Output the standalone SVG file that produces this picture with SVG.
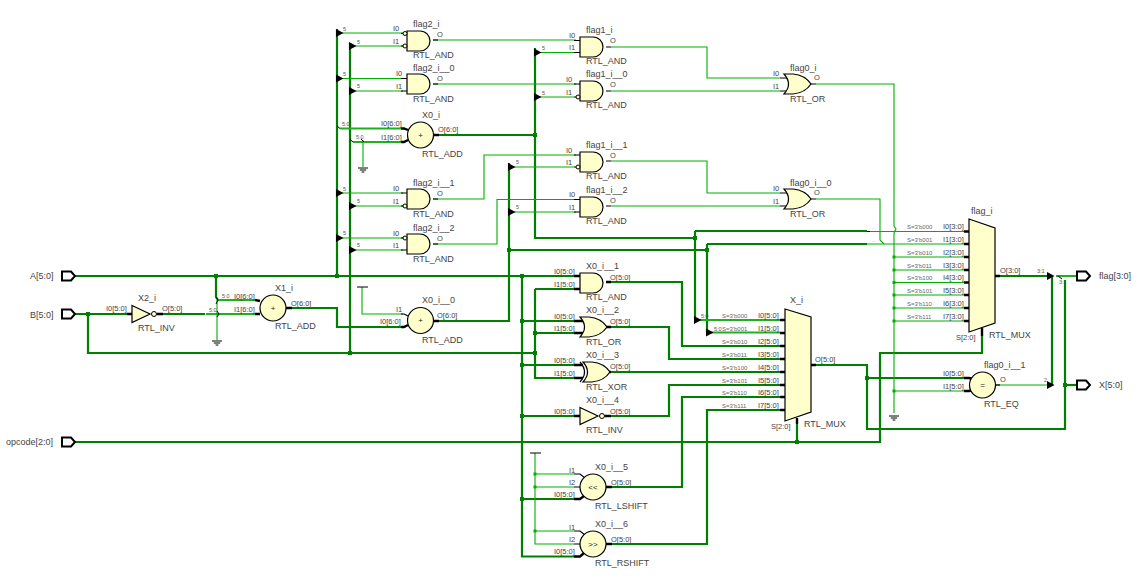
<svg xmlns="http://www.w3.org/2000/svg" width="1139" height="588" viewBox="0 0 1139 588">
<style>
text{font-family:"Liberation Sans",Arial,sans-serif;font-size:9px;fill:#444}
.p{font-size:7.5px}
.s{font-size:6px;fill:#666}
.k{font-size:5.5px;fill:#555}
.d{font-size:5.5px;fill:#aaa}
.c{font-size:8px;fill:#222}
.g{fill:#ffffcc;stroke:#000;stroke-width:1.2}
.st{stroke:#000;stroke-width:1.2;fill:none}
.sb{stroke:#000;stroke-width:2.4;fill:none}
.bub{fill:#ffffcc;stroke:#000;stroke-width:1}
.port{fill:#fff;stroke:#000;stroke-width:2}
.bus{stroke:#008000;stroke-width:2.2;fill:none}
.net{stroke:#00b000;stroke-width:1.1;fill:none}
.lb{stroke:#1eb01e;stroke-width:2;fill:none}
.j{fill:#008000}
.jl{fill:#00b000}
.tri{fill:#000}
.rip{stroke:#000;stroke-width:1;fill:none}
.pow{stroke:#000;stroke-width:1;fill:none}
</style>
<defs>
<path id="and" class="g" d="M0 0H13A10 10 0 0 1 13 20H0Z"/>
<path id="or" class="g" d="M-1 0H8Q20 1 26 10Q20 19 8 20H-1Q8 10 -1 0Z"/>
<path id="inv" class="g" d="M0 0L18 8.5L0 17Z"/>
<path id="port" class="port" d="M0 -4.5H9L13 0L9 4.5H0Z"/>
<path id="r" class="tri" d="M0 -4L7.500 0L0 4Z"/>
<rect id="jb" class="j" x="-2" y="-2" width="4" height="4"/>
<rect id="jn" class="jl" x="-1.500" y="-1.500" width="3" height="3"/>
<path id="gnd" class="pow" d="M-5 0H5M-3.200 2H3.200M-1.400 4H1.400"/>
</defs>

<g id="connectors">
<path class="bus" d="M75 276H576"/>
<path class="bus" d="M216 276V297L218 300"/>
<path class="bus" d="M75 314H127M162 314H205"/>
<path class="bus" d="M88 314V353H535"/>
<path class="bus" d="M75 442H880V353H982V336"/>
<path class="bus" d="M797 442V424"/>
<path class="bus" d="M337 29V276"/>
<path class="bus" d="M350 43V353"/>
<path class="bus" d="M535 48V238H695"/>
<path class="bus" d="M433 135H535"/>
<path class="bus" d="M509 163V321H433"/>
<path class="bus" d="M509 250H707"/>
<path class="bus" d="M695 231V320"/>
<path class="bus" d="M707 244V332"/>
<path class="bus" d="M695 231H867M707 244H867"/>
<path class="bus" d="M286 308H337V327H403"/>
<path class="bus" d="M522 276V556.500H574M522 321H574M522 365H574M522 416H574M522 499H574"/>
<path class="bus" d="M535 289H574M535 289V378H574M535 333H574"/>
<path class="bus" d="M611 282H682V346H780"/>
<path class="bus" d="M611 327H669V359H780"/>
<path class="bus" d="M611 372H780"/>
<path class="bus" d="M611 416H669V385H780"/>
<path class="bus" d="M611 487H682V397H780"/>
<path class="bus" d="M611 544H707V410H780"/>
<path class="bus" d="M815 365H867V429H1065V280"/>
<path class="bus" d="M867 378H964"/>
<path class="bus" d="M1065 385H1077"/>
<path class="bus" d="M1000 276H1047"/>
<path class="bus" d="M1052 276V385"/>
<path class="lb" d="M206 314H255M218 300H255M340 128.500H401M353 142H401"/>
<path class="lb" d="M698 320H780M710 332.500H780"/>
<path class="lb" d="M1056 276H1077"/>
<path class="net" d="M337 33H403M350 46H403M337 78.500H403M350 91H403M337 193H403M350 206H403M337 238H403M350 250H403"/>
<path class="net" d="M433 40H576M433 84H576M433 199H484V155H576M433 244H497V199.500H576"/>
<path class="net" d="M535 52.500H576M535 97H574M509 167H574M509 212H576"/>
<path class="net" d="M611 47H707V78H780M611 91H780M611 161H707V193H780M611 206H780"/>
<path class="net" d="M816 84H894V226L896 229L894 233V413"/>
<path class="net" d="M816 199H880V240L884 244"/>
<path class="net" d="M867 231.500H964M867 244H964M894 257H964M894 270H964M894 282.500H964M894 295H964M894 308H964M894 321H964M894 391H964"/>
<path class="net" d="M217 300V340"/>
<path class="net" d="M363 140V167"/>
<path class="net" d="M362 287V314H403"/>
<path class="net" d="M535 453V544H574M535 474H574M535 487H574M535 531H574"/>
<path class="net" d="M995 385H1047"/>
<use href="#jb" x="216" y="276"/><use href="#jb" x="88" y="314"/><use href="#jb" x="337" y="276"/><use href="#jb" x="350" y="353"/>
<use href="#jb" x="535" y="135"/><use href="#jb" x="509" y="250"/><use href="#jb" x="522" y="276"/><use href="#jb" x="522" y="321"/><use href="#jb" x="522" y="365"/><use href="#jb" x="522" y="416"/><use href="#jb" x="522" y="499"/>
<use href="#jb" x="535" y="333"/><use href="#jb" x="535" y="353"/><use href="#jb" x="695" y="238"/><use href="#jb" x="707" y="250"/><use href="#jb" x="797" y="442"/><use href="#jb" x="867" y="378"/><use href="#jb" x="1065" y="385"/>
<use href="#jn" x="894" y="257"/><use href="#jn" x="894" y="270"/><use href="#jn" x="894" y="282.500"/><use href="#jn" x="894" y="295"/><use href="#jn" x="894" y="308"/><use href="#jn" x="894" y="321"/><use href="#jn" x="894" y="391"/>
<use href="#jn" x="535" y="474"/><use href="#jn" x="535" y="487"/><use href="#jn" x="535" y="531"/>
<use href="#r" x="336" y="33"/><use href="#r" x="336" y="78.500"/><use href="#r" x="336" y="193"/><use href="#r" x="336" y="238"/>
<use href="#r" x="349" y="46"/><use href="#r" x="349" y="91"/><use href="#r" x="349" y="206"/><use href="#r" x="349" y="250"/>
<use href="#r" x="534" y="52.500"/><use href="#r" x="534" y="97"/><use href="#r" x="508" y="167"/><use href="#r" x="508" y="212"/>
<use href="#r" x="694" y="320"/><use href="#r" x="706" y="332.500"/>
<use href="#r" x="1047" y="276"/><use href="#r" x="1047" y="385"/>
<path class="rip" d="M216 297L218 300L216 304M217 311L219 314L217 317M337 126L340 128.500M350 139.500L353 142M361 139L364 142M867 231.500H870M1058 276L1062 279"/>
<use href="#gnd" x="217" y="341"/><use href="#gnd" x="363" y="168"/><use href="#gnd" x="894" y="416"/>
<path class="pow" d="M357 287H368M530 453H541"/>
<text class="k" x="343" y="31">5</text><text class="k" x="343" y="76">5</text><text class="k" x="343" y="191">5</text><text class="k" x="343" y="235">5</text>
<text class="k" x="357" y="44">5</text><text class="k" x="357" y="88">5</text><text class="k" x="357" y="203">5</text><text class="k" x="357" y="247">5</text>
<text class="k" x="542" y="50">5</text><text class="k" x="542" y="95">5</text><text class="k" x="516" y="164">5</text><text class="k" x="516" y="209">5</text>
<text class="k" x="342" y="126">5:0</text><text class="k" x="356" y="139">5:0</text>
<text class="k" x="222" y="298">5:0</text><text class="k" x="209" y="312">5:0</text>
<text class="k" x="701" y="318">5:0</text><text class="k" x="714" y="331">5:0</text>
<text class="k" x="1037" y="273">3:1</text><text class="k" x="1059" y="284">3:1</text><text class="d" x="1071" y="284">..</text><text class="k" x="1044" y="382">2</text>
<text class="d" x="872" y="229">..</text><text class="d" x="872" y="242">..</text>
</g>

<g id="A"><use href="#port" x="62" y="276"/><text x="30" y="279">A[5:0]</text></g>
<g id="B"><use href="#port" x="62" y="314"/><text x="30" y="317.500">B[5:0]</text></g>
<g id="opcode"><use href="#port" x="62" y="442"/><text x="6" y="445">opcode[2:0]</text></g>
<g id="flag"><use href="#port" x="1077" y="276"/><text x="1099" y="279">flag[3:0]</text></g>
<g id="X"><use href="#port" x="1077" y="385"/><text x="1099" y="388">X[5:0]</text></g>

<g id="X2_i"><path class="sb" d="M127 314H132M157 314H163"/><use href="#inv" x="132" y="305.500"/><circle class="bub" cx="154" cy="314" r="2.500"/><text x="138" y="301">X2_i</text><text class="p" x="106" y="311">I0[5:0]</text><text class="p" x="162" y="311">O[5:0]</text><text x="138" y="331">RTL_INV</text></g>
<g id="X1_i"><path class="sb" d="M255 300L260 301M255 314L260 314M286 308H292"/><circle class="g" cx="273" cy="308" r="13"/><text class="c" x="273" y="310.500" text-anchor="middle">+</text><text x="275" y="291">X1_i</text><text class="p" x="234" y="299">I0[6:0]</text><text class="p" x="234" y="312">I1[6:0]</text><text class="p" x="291" y="306">O[6:0]</text><text x="275" y="329">RTL_ADD</text></g>

<g id="flag2_i"><path class="st" d="M401 33.500H405M401 46H405M433 40H438"/><use href="#and" x="407" y="31"/><circle class="bub" cx="405" cy="33.500" r="2"/><circle class="bub" cx="405" cy="46" r="2"/><text x="413" y="27">flag2_i</text><text class="p" x="393" y="31">I0</text><text class="p" x="393" y="43.500">I1</text><text class="p" x="437" y="37">O</text><text x="413" y="58">RTL_AND</text></g>
<g id="flag2_i__0"><path class="st" d="M401 78.500H407M401 91H407M433 84H438"/><use href="#and" x="407" y="74"/><text x="413" y="71">flag2_i__0</text><text class="p" x="396" y="76">I0</text><text class="p" x="396" y="88.500">I1</text><text class="p" x="437" y="81">O</text><text x="413" y="102">RTL_AND</text></g>
<g id="X0_i"><path class="sb" d="M401 128.500H404L408 130M401 142H404L408 140M433 135H439"/><circle class="g" cx="420.500" cy="135" r="13"/><text class="c" x="420.500" y="137.500" text-anchor="middle">+</text><text x="422" y="118">X0_i</text><text class="p" x="381" y="126">I0[6:0]</text><text class="p" x="381" y="139.500">I1[6:0]</text><text class="p" x="438" y="132">O[6:0]</text><text x="422" y="157">RTL_ADD</text></g>
<g id="flag2_i__1"><path class="st" d="M401 193H407M401 206H405M433 199H438"/><use href="#and" x="407" y="189"/><circle class="bub" cx="405" cy="206" r="2"/><text x="413" y="186">flag2_i__1</text><text class="p" x="393" y="190.500">I0</text><text class="p" x="393" y="203.500">I1</text><text class="p" x="437" y="196">O</text><text x="413" y="217">RTL_AND</text></g>
<g id="flag2_i__2"><path class="st" d="M401 238H405M401 250H407M433 244H438"/><use href="#and" x="407" y="234"/><circle class="bub" cx="405" cy="238" r="2"/><text x="413" y="231">flag2_i__2</text><text class="p" x="393" y="235.500">I0</text><text class="p" x="393" y="247.500">I1</text><text class="p" x="437" y="241">O</text><text x="413" y="262">RTL_AND</text></g>
<g id="X0_i__0"><path class="st" d="M401 314H404L408 316"/><path class="sb" d="M401 327H404L408 325M433 321H439"/><circle class="g" cx="420.500" cy="320.500" r="13"/><text class="c" x="420.500" y="323" text-anchor="middle">+</text><text x="422" y="303">X0_i__0</text><text class="p" x="396" y="311.500">I1</text><text class="p" x="380" y="324">I0[6:0]</text><text class="p" x="437" y="318">O[6:0]</text><text x="422" y="343">RTL_ADD</text></g>

<g id="flag1_i"><path class="st" d="M574 40.500H580M574 52.500H580M606 47H611"/><use href="#and" x="580" y="37"/><text x="586" y="33">flag1_i</text><text class="p" x="569" y="38">I0</text><text class="p" x="569" y="50">I1</text><text class="p" x="610" y="43">O</text><text x="586" y="64">RTL_AND</text></g>
<g id="flag1_i__0"><path class="st" d="M574 84H580M574 97H578M606 91H611"/><use href="#and" x="580" y="81"/><circle class="bub" cx="578" cy="97" r="2"/><text x="586" y="77">flag1_i__0</text><text class="p" x="566" y="81.500">I0</text><text class="p" x="566" y="94.500">I1</text><text class="p" x="610" y="87">O</text><text x="586" y="108">RTL_AND</text></g>
<g id="flag1_i__1"><path class="st" d="M574 155H580M574 167H578M606 161H611"/><use href="#and" x="580" y="152"/><circle class="bub" cx="578" cy="167" r="2"/><text x="586" y="148">flag1_i__1</text><text class="p" x="566" y="152.500">I0</text><text class="p" x="566" y="164.500">I1</text><text class="p" x="610" y="158">O</text><text x="586" y="179">RTL_AND</text></g>
<g id="flag1_i__2"><path class="st" d="M574 199.500H580M574 212H580M606 206H611"/><use href="#and" x="580" y="197"/><text x="586" y="193">flag1_i__2</text><text class="p" x="569" y="197">I0</text><text class="p" x="569" y="209.500">I1</text><text class="p" x="610" y="203">O</text><text x="586" y="224">RTL_AND</text></g>

<g id="flag0_i"><path class="st" d="M780 78H788M780 91H788M811 84H816"/><use href="#or" x="785" y="74"/><text x="790" y="71">flag0_i</text><text class="p" x="773" y="75.500">I0</text><text class="p" x="773" y="88.500">I1</text><text class="p" x="814" y="80">O</text><text x="790" y="102">RTL_OR</text></g>
<g id="flag0_i__0"><path class="st" d="M780 193H788M780 206H788M811 199H816"/><use href="#or" x="785" y="189"/><text x="790" y="186">flag0_i__0</text><text class="p" x="773" y="190.500">I0</text><text class="p" x="773" y="203.500">I1</text><text class="p" x="814" y="195">O</text><text x="790" y="217">RTL_OR</text></g>

<g id="X0_i__1"><path class="sb" d="M574 276H580M574 289H580M606 282H611"/><use href="#and" x="580" y="273"/><text x="586" y="269">X0_i__1</text><text class="p" x="554" y="273.500">I0[5:0]</text><text class="p" x="554" y="286.500">I1[5:0]</text><text class="p" x="610" y="279.500">O[5:0]</text><text x="586" y="300">RTL_AND</text></g>
<g id="X0_i__2"><path class="sb" d="M574 321H583M574 333H583M606 327H611"/><use href="#or" x="581" y="317"/><text x="586" y="313">X0_i__2</text><text class="p" x="554" y="318.500">I0[5:0]</text><text class="p" x="554" y="330.500">I1[5:0]</text><text class="p" x="610" y="324">O[5:0]</text><text x="586" y="345">RTL_OR</text></g>
<g id="X0_i__3"><path class="sb" d="M574 365H583M574 378H583M606 372H611"/><use href="#or" x="584" y="362"/><path class="st" d="M580 362Q589 372 580 382"/><text x="586" y="358">X0_i__3</text><text class="p" x="554" y="363">I0[5:0]</text><text class="p" x="554" y="375.500">I1[5:0]</text><text class="p" x="610" y="369">O[5:0]</text><text x="586" y="390">RTL_XOR</text></g>
<g id="X0_i__4"><path class="sb" d="M574 416H580M605 416H611"/><use href="#inv" x="580" y="407.500"/><circle class="bub" cx="602" cy="416" r="2.500"/><text x="586" y="403">X0_i__4</text><text class="p" x="554" y="413.500">I0[5:0]</text><text class="p" x="610" y="413.500">O[5:0]</text><text x="586" y="433">RTL_INV</text></g>
<g id="X0_i__5"><path class="st" d="M574 474H580L585 478M574 487H580"/><path class="sb" d="M574 499H580L584 496M606 487H612"/><circle class="g" cx="593" cy="487" r="13"/><text class="c" x="593" y="489.500" text-anchor="middle">&lt;&lt;</text><text x="595" y="470">X0_i__5</text><text class="p" x="569" y="472.500">I1</text><text class="p" x="569" y="484.500">I2</text><text class="p" x="554" y="496.500">I0[5:0]</text><text class="p" x="611" y="484.500">O[5:0]</text><text x="595" y="509">RTL_LSHIFT</text></g>
<g id="X0_i__6"><path class="st" d="M574 531H580L585 535M574 544H580"/><path class="sb" d="M574 556.500H580L584 553M606 544H612"/><circle class="g" cx="593" cy="544" r="13"/><text class="c" x="593" y="546.500" text-anchor="middle">&gt;&gt;</text><text x="595" y="527">X0_i__6</text><text class="p" x="569" y="529.500">I1</text><text class="p" x="569" y="541.500">I2</text><text class="p" x="554" y="554">I0[5:0]</text><text class="p" x="611" y="541.500">O[5:0]</text><text x="595" y="566">RTL_RSHIFT</text></g>

<g id="X_i"><path class="sb" d="M780 320H785M780 333H785M780 346H785M780 359H785M780 372H785M780 385H785M780 397H785M780 410H785M811 365H816M797 418V424"/><path class="g" d="M785 309L811 317V412L785 421Z"/>
<text x="790" y="303">X_i</text><text class="p" x="758" y="317.500">I0[5:0]</text><text class="p" x="758" y="330.500">I1[5:0]</text><text class="p" x="758" y="343.500">I2[5:0]</text><text class="p" x="758" y="356.500">I3[5:0]</text><text class="p" x="758" y="369.500">I4[5:0]</text><text class="p" x="758" y="382.500">I5[5:0]</text><text class="p" x="758" y="394.500">I6[5:0]</text><text class="p" x="758" y="407.500">I7[5:0]</text>
<text class="s" x="722" y="317.500">S=3'b000</text><text class="s" x="722" y="330.500">S=3'b001</text><text class="s" x="722" y="343.500">S=3'b010</text><text class="s" x="722" y="356.500">S=3'b011</text><text class="s" x="722" y="369.500">S=3'b100</text><text class="s" x="722" y="382.500">S=3'b101</text><text class="s" x="722" y="394.500">S=3'b110</text><text class="s" x="722" y="407.500">S=3'b111</text>
<text class="p" x="815" y="362">O[5:0]</text><text class="p" x="771" y="429">S[2:0]</text><text x="804" y="427">RTL_MUX</text></g>

<g id="flag_i"><path class="sb" d="M964 231.500H969M964 244H969M964 257H969M964 270H969M964 282.500H969M964 295H969M964 308H969M964 321H969M995 276H1000M982 328V336"/><path class="g" d="M969 219L995 228V323L969 332Z"/>
<text x="971" y="214">flag_i</text><text class="p" x="943" y="229">I0[3:0]</text><text class="p" x="943" y="241.500">I1[3:0]</text><text class="p" x="943" y="254.500">I2[3:0]</text><text class="p" x="943" y="267.500">I3[3:0]</text><text class="p" x="943" y="280">I4[3:0]</text><text class="p" x="943" y="292.500">I5[3:0]</text><text class="p" x="943" y="305.500">I6[3:0]</text><text class="p" x="943" y="318.500">I7[3:0]</text>
<text class="s" x="907" y="229">S=3'b000</text><text class="s" x="907" y="241.500">S=3'b001</text><text class="s" x="907" y="254.500">S=3'b010</text><text class="s" x="907" y="267.500">S=3'b011</text><text class="s" x="907" y="280">S=3'b100</text><text class="s" x="907" y="292.500">S=3'b101</text><text class="s" x="907" y="305.500">S=3'b110</text><text class="s" x="907" y="318.500">S=3'b111</text>
<text class="p" x="1000" y="273">O[3:0]</text><text class="p" x="956" y="340">S[2:0]</text><text x="989" y="338">RTL_MUX</text></g>

<g id="flag0_i__1"><path class="sb" d="M964 378H969L973 379M964 391H969L973 390"/><path class="st" d="M995 385H1000"/><circle class="g" cx="982.500" cy="385" r="13"/><text class="c" x="982.500" y="387.500" text-anchor="middle">=</text><text x="984" y="368">flag0_i__1</text><text class="p" x="943" y="375.500">I0[5:0]</text><text class="p" x="943" y="388.500">I1[5:0]</text><text class="p" x="1000" y="382">O</text><text x="984" y="407">RTL_EQ</text></g>
</svg>
